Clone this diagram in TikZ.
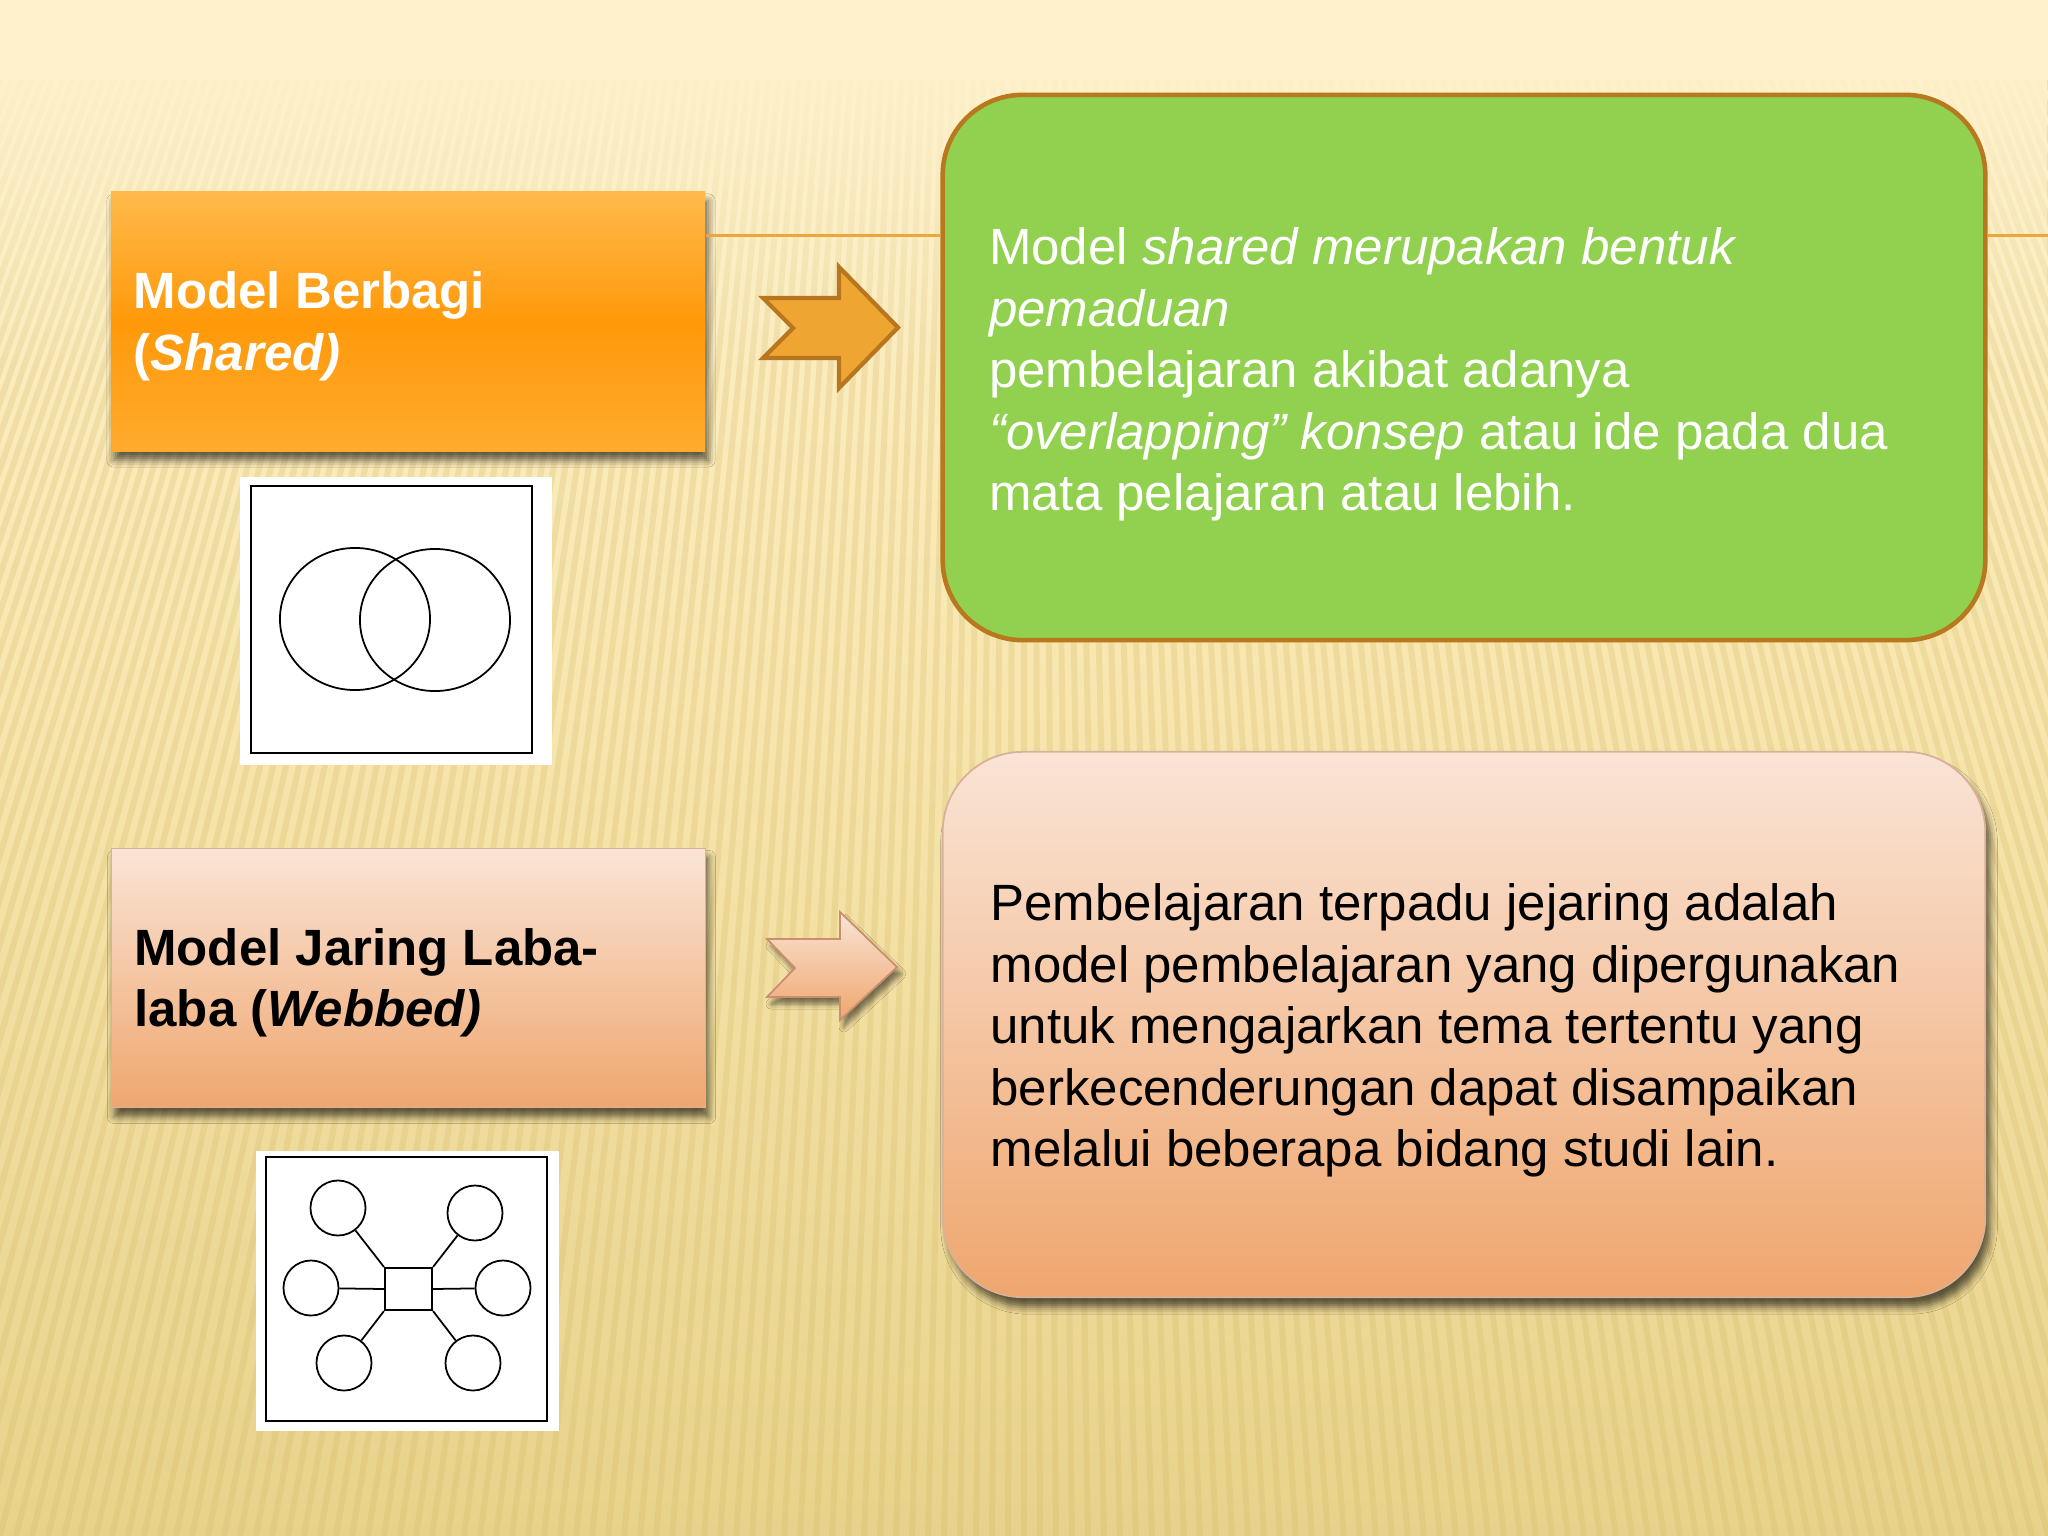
\documentclass[tikz,border=0pt]{standalone}
\usepackage{fontspec}
\setmainfont{Liberation Sans}
\usetikzlibrary{shadows.blur,fadings}
\definecolor{cream}{HTML}{FEF1CB}
\definecolor{bgmid}{HTML}{F7E6AE}
\definecolor{bgbot}{HTML}{E8D28B}
\definecolor{stripecol}{HTML}{D2B560}
\definecolor{gfill}{HTML}{92D050}
\definecolor{gborder}{HTML}{B8781E}
\definecolor{olight}{HTML}{FFBA4C}
\definecolor{omid}{HTML}{FF990A}
\definecolor{obot}{HTML}{FFAB2E}
\definecolor{ptop}{HTML}{FAE4D6}
\definecolor{pbot}{HTML}{EFA66E}
\definecolor{pborder}{HTML}{C99070}
\definecolor{aofill}{HTML}{EFA532}
\definecolor{aoborder}{HTML}{B8761E}
\definecolor{hlinecol}{HTML}{ECA63C}
\tikzset{
  labelbox/.style={rectangle, minimum width=5.94cm, minimum height=2.59cm, inner sep=0pt},
  bigbox/.style={rectangle, rounded corners=0.8cm, minimum width=10.42cm,
    minimum height=5.45cm, inner sep=0pt},
  labeltext/.style={anchor=west, inner sep=0pt, align=left,
    font=\fontsize{14.5}{17.5}\selectfont\bfseries},
  bodytext/.style={anchor=west, inner sep=0pt, align=left,
    font=\fontsize{14.5}{17.5}\selectfont},
  softshadow/.style={blur shadow={shadow xshift=0.03cm, shadow yshift=-0.09cm,
    shadow blur radius=0.07cm, shadow opacity=60}},
  imgbg/.style={rectangle, fill=white, inner sep=0pt},
  imgframe/.style={rectangle, draw=black, line width=0.6pt, inner sep=0pt},
  webcircle/.style={circle, draw=black, line width=0.5pt, minimum size=0.55cm, inner sep=0pt, fill=white},
  webline/.style={draw=black, line width=0.5pt},
  arrowA/.style={fill=aofill, draw=aoborder, line width=1.2pt, line join=miter},
  arrowB/.style={top color=ptop, bottom color=pbot, draw=pborder, line width=0.5pt, line join=miter,
    blur shadow={shadow xshift=0.04cm, shadow yshift=-0.07cm, shadow blur radius=0.05cm, shadow opacity=50}},
}
\begin{document}
\begin{tikzpicture}[x=0.01cm,y=-0.01cm]
\useasboundingbox (0,0) rectangle (2048,1536);
% background
\fill[cream] (0,0) rectangle (2048,1536);
\shade[top color=cream, bottom color=bgmid] (0,70) rectangle (2048,700);
\shade[top color=bgmid, bottom color=bgbot] (0,700) rectangle (2048,1536);
\begin{scope}
\clip (0,80) rectangle (2048,1536);
\foreach \i in {-55,...,185} {
  \pgfmathsetmacro\xb{\i*16}
  \pgfmathsetmacro\xt{1024+(\xb-1024)*0.6368}
  \draw[stripecol, line width=0.06cm, opacity=0.24] (\xb,1536) -- (\xt,70);
}
\end{scope}
\fill[cream, path fading=south] (0,40) rectangle (2048,380);

% boxes
\node[labelbox, softshadow, top color=olight, bottom color=obot, middle color=omid]
  (obox) at (408,321.5) {};
\node[labeltext, text=white] (otxt) at ([xshift=0.23cm,yshift=-0.05cm]obox.west)
  {Model Berbagi\\(\textit{Shared)}};
\node[labelbox, softshadow, top color=ptop, bottom color=pbot, draw=pborder!70, line width=0.4pt]
  (pbox) at (408.5,978) {};
\node[labeltext, text=black] (ptxt) at ([xshift=0.23cm,yshift=-0.05cm]pbox.west)
  {Model Jaring Laba-\\laba (\textit{Webbed)}};

\node[bigbox, fill=gfill, draw=gborder, line width=1.3pt] (gbox) at (1464,367.5) {};
\node[bodytext, text=white] (gtxt) at ([xshift=0.48cm,yshift=-0.07cm]gbox.west)
  {Model \textit{shared merupakan bentuk}\\
  \textit{pemaduan}\\
  pembelajaran akibat adanya\\
  \textit{“overlapping” konsep} atau ide pada dua\\
  mata pelajaran atau lebih.};
\node[bigbox, top color=ptop, bottom color=pbot, draw=pborder!70, line width=0.5pt,
  blur shadow={shadow xshift=0.05cm, shadow yshift=-0.1cm, shadow blur radius=0.07cm, shadow opacity=60}]
  (pbig) at (1464,1024.5) {};
\node[bodytext, text=black] (pbtxt) at ([xshift=0.48cm,yshift=-0.06cm]pbig.west)
  {Pembelajaran terpadu jejaring adalah\\
  model pembelajaran yang dipergunakan\\
  untuk mengajarkan tema tertentu yang\\
  berkecenderungan dapat disampaikan\\
  melalui beberapa bidang studi lain.};

% template line
\coordinate (lineend) at (2048,235);
\draw[hlinecol, line width=0.85pt] (obox.east |- lineend) -- (gbox.west |- lineend);
\draw[hlinecol, line width=0.85pt] (gbox.east |- lineend) -- (lineend);

% arrows
\draw[arrowA] (763,298) -- (793,328) -- (763,358) -- (839,358) -- (839,388) -- (898,327.5) -- (839,267) -- (839,298) -- cycle;
\path[arrowB] (767,939) -- (795,968) -- (767,997) -- (840,997) -- (840,1020) -- (897,967) -- (840,912) -- (840,939) -- cycle;

% venn picture
\node[imgbg, minimum width=3.12cm, minimum height=2.88cm] (vennbg) at (396,621) {};
\node[imgframe, minimum width=2.81cm, minimum height=2.67cm] (venn) at (391.5,619.5) {};
\draw[line width=0.5pt] (355,619) ellipse [x radius=0.75cm, y radius=0.71cm];
\draw[line width=0.5pt] (435,620) ellipse [x radius=0.75cm, y radius=0.71cm];

% webbed picture
\node[imgbg, minimum width=3.03cm, minimum height=2.80cm] (webbg) at (407.5,1291) {};
\node[imgframe, minimum width=2.81cm, minimum height=2.64cm] (web) at (406.5,1289) {};
\node[imgframe, minimum width=0.47cm, minimum height=0.42cm] (sq) at (408.5,1289) {};
\node[webcircle] (ctl) at (338,1208) {};
\node[webcircle] (ctr) at (475,1213) {};
\node[webcircle] (cml) at (311,1288) {};
\node[webcircle] (cmr) at (503,1288) {};
\node[webcircle] (cbl) at (344,1363) {};
\node[webcircle] (cbr) at (473,1363) {};
\draw[webline] (ctl) -- (sq.north west);
\draw[webline] (ctr) -- (sq.north east);
\draw[webline] (cml) -- (sq.west);
\draw[webline] (cmr) -- (sq.east);
\draw[webline] (cbl) -- (sq.south west);
\draw[webline] (cbr) -- (sq.south east);
\end{tikzpicture}
\end{document}
